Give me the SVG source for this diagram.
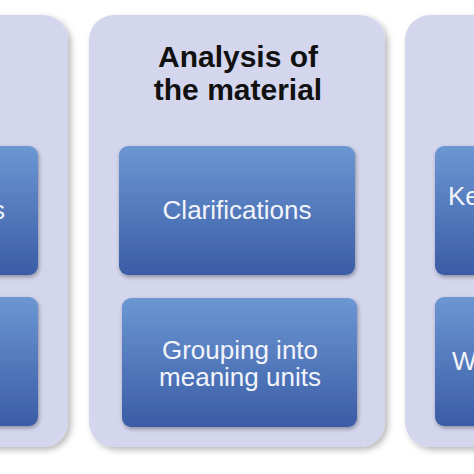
<svg xmlns="http://www.w3.org/2000/svg" width="474" height="474" viewBox="0 0 474 474">
<defs>
<linearGradient id="boxGrad" x1="0" y1="0" x2="0" y2="1">
<stop offset="0" stop-color="#6c97d3"/>
<stop offset="1" stop-color="#3a5ca6"/>
</linearGradient>
<filter id="panelShadow" x="-10%" y="-10%" width="125%" height="125%">
<feDropShadow dx="3" dy="3" stdDeviation="3" flood-color="#000" flood-opacity="0.28"/>
</filter>
<filter id="boxShadow" x="-10%" y="-10%" width="125%" height="130%">
<feDropShadow dx="1" dy="2" stdDeviation="2" flood-color="#000" flood-opacity="0.35"/>
</filter>
</defs>
<style>
.panel{fill:#d4d6ee;filter:url(#panelShadow)}
.box{fill:url(#boxGrad);filter:url(#boxShadow)}
.title{font-family:"Liberation Sans",Arial,sans-serif;font-weight:bold;font-size:30px;fill:#111;text-anchor:middle}
.lbl{font-family:"Liberation Sans",Arial,sans-serif;font-size:26px;fill:#f2f4fa}
</style>
<rect width="474" height="474" fill="#fff"/>
<g id="panel-left">
<rect class="panel" x="-228" y="15" width="296" height="432" rx="25"/>
<g id="left-box-1">
<rect class="box" x="-198" y="146" width="236" height="129" rx="9"/>
<text class="lbl" x="5" y="219" text-anchor="end">s</text>
</g>
<g id="left-box-2">
<rect class="box" x="-198" y="297" width="236" height="129" rx="9"/>
</g>
</g>
<g id="panel-middle">
<rect class="panel" x="89" y="15" width="296" height="432" rx="25"/>
<text class="title" x="238" y="67">Analysis of</text>
<text class="title" x="238" y="100">the material</text>
<g id="box-clarifications">
<rect class="box" x="119" y="146" width="236" height="129" rx="9"/>
<text class="lbl" x="237" y="219" text-anchor="middle">Clarifications</text>
</g>
<g id="box-grouping">
<rect class="box" x="122" y="298" width="235" height="129" rx="9"/>
<text class="lbl" x="240" y="359" text-anchor="middle">Grouping into</text>
<text class="lbl" x="240" y="386" text-anchor="middle">meaning units</text>
</g>
</g>
<g id="panel-right">
<rect class="panel" x="405" y="15" width="296" height="432" rx="25"/>
<g id="right-box-1">
<rect class="box" x="435" y="146" width="236" height="129" rx="9"/>
<text class="lbl" x="448" y="205">Ke</text>
</g>
<g id="right-box-2">
<rect class="box" x="435" y="297" width="236" height="129" rx="9"/>
<text class="lbl" x="452" y="370">W</text>
</g>
</g>
<g id="connectors"/>
</svg>
